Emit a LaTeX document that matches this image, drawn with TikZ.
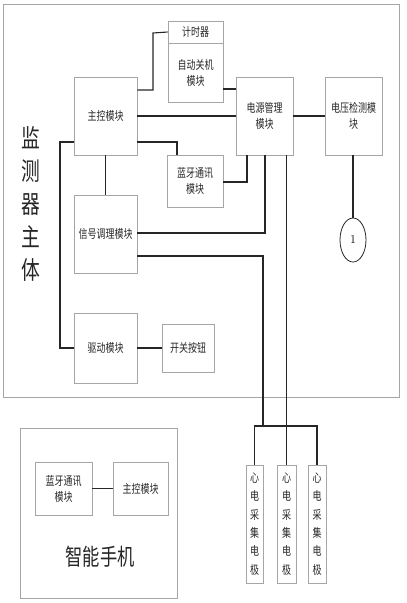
\documentclass[tikz,border=0pt]{standalone}
\usepackage{fontspec}
\usetikzlibrary{shapes.geometric}
\newfontfamily\cjkn[FakeStretch=0.75]{Noto Sans CJK SC}
\begin{document}
\begin{tikzpicture}[x=1pt,y=-1pt,
  box/.style={draw=gray!70, line width=0.7pt, inner sep=0pt, align=center,
    text=black!85, font=\cjkn\fontsize{12}{16}\selectfont},
  conn/.style={draw=black!85, line width=1.1pt},
  big/.style={font=\cjkn\fontsize{25}{33}\selectfont, text=black!85, align=center}]
\useasboundingbox (0,0) rectangle (407,603);
% outer boxes
\node[box, minimum width=396pt, minimum height=393pt] (body) at (201,200.5) {};
\node[box, minimum width=157pt, minimum height=170pt] (phone) at (98.5,513) {};
% modules
\node[box, minimum width=55pt, minimum height=22pt] (timer) at (195.5,32) {计时器};
\node[box, minimum width=55pt, minimum height=59pt] (auto) at (195.5,72.5) {自动关机\\模块};
\node[box, minimum width=63pt, minimum height=78pt] (main) at (105.5,116) {主控模块};
\node[box, minimum width=57pt, minimum height=78pt] (pm) at (264.5,116) {电源管理\\模块};
\node[box, minimum width=57pt, minimum height=78pt] (volt) at (353.5,116) {电压检测模\\块};
\node[box, minimum width=56pt, minimum height=52pt] (bt) at (195,181) {蓝牙通讯\\模块};
\node[box, minimum width=63pt, minimum height=78pt] (sig) at (105.5,234) {信号调理模块};
\node[box, minimum width=63pt, minimum height=70pt] (drv) at (105.5,348) {驱动模块};
\node[box, minimum width=52pt, minimum height=48pt] (sw) at (188,348) {开关按钮};
\node[draw=black!85, line width=0.8pt, ellipse, minimum width=26pt, minimum height=44pt, inner sep=0pt,
  font=\fontsize{12}{14}\selectfont] (one) at (353,240) {1};
% electrodes
\node[box, minimum width=17pt, minimum height=118pt, font=\cjkn\fontsize{12}{18.3}\selectfont] (e1) at (254.5,524) {心\\电\\采\\集\\电\\极};
\node[box, minimum width=19pt, minimum height=118pt, font=\cjkn\fontsize{12}{18.3}\selectfont] (e2) at (286.5,524) {心\\电\\采\\集\\电\\极};
\node[box, minimum width=18pt, minimum height=118pt, font=\cjkn\fontsize{12}{18.3}\selectfont] (e3) at (317,524) {心\\电\\采\\集\\电\\极};
% phone modules
\node[box, minimum width=57pt, minimum height=53pt] (pbt) at (63.5,488.5) {蓝牙通讯\\模块};
\node[box, minimum width=55pt, minimum height=53pt] (pmain) at (140.5,488.5) {主控模块};
% big labels
\node[big] (title) at (31,204) {监\\测\\器\\主\\体};
\node[big, font=\cjkn\fontsize{23}{28}\selectfont] (phonelabel) at (100,557) {智能手机};
% connectors
\draw[conn] (main.east |- 0,90) -| (153,33) -- (timer.west);
\draw[conn] (auto.east |- 0,89) -- (pm.west |- 0,89);
\draw[conn] (main.east) -- (pm.west);
\draw[conn] (pm.east) -- (volt.west);
\draw[conn] (main.west |- 0,142) -| (60,348) -- (drv.west);
\draw[conn] (main.south) -- (sig.north);
\draw[conn] (main.east |- 0,142) -| (bt.north -| 177,0);
\draw[conn] (bt.east |- 0,182) -| (pm.south -| 247,0);
\draw[conn] (sig.east |- 0,233) -| (pm.south -| 265,0);
\draw[conn] (sig.east |- 0,256) -| (263,426);
\draw[conn] (e1.north) |- (e3.north |- 0,426) -- (e3.north);
\draw[conn] (pm.south -| e2.north) -- (e2.north);
\draw[conn] (drv.east) -- (sw.west);
\draw[conn] (volt.south -| one.north) -- (one.north);
\draw[conn] (pbt.east) -- (pmain.west);
\end{tikzpicture}
\end{document}
